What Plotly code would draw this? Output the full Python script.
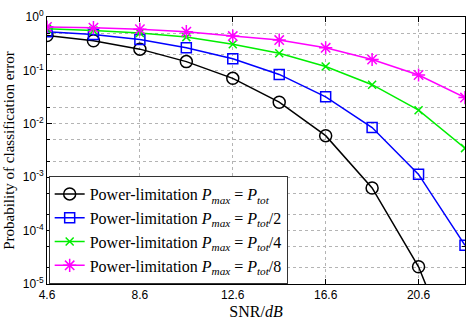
import plotly.graph_objects as go

snr = [4.6, 6.6, 8.6, 10.6, 12.6, 14.6, 16.6, 18.6, 20.6, 22.6]
p_full = [0.45, 0.36, 0.25, 0.146, 0.071, 0.0254, 0.006, 6.3e-4, 2.1e-5, 1.5e-7]
p_half = [0.53, 0.47, 0.38, 0.265, 0.165, 0.084, 0.032, 0.0085, 1.13e-3, 5.3e-5]
p_quarter = [0.60, 0.56, 0.50, 0.42, 0.31, 0.21, 0.118, 0.054, 0.018, 3.5e-3]
p_eighth = [0.65, 0.63, 0.59, 0.53, 0.44, 0.37, 0.265, 0.16, 0.082, 0.031]

names = [
    "Power-limitation <i>P<sub>max</sub></i> = <i>P<sub>tot</sub></i>",
    "Power-limitation <i>P<sub>max</sub></i> = <i>P<sub>tot</sub></i>/2",
    "Power-limitation <i>P<sub>max</sub></i> = <i>P<sub>tot</sub></i>/4",
    "Power-limitation <i>P<sub>max</sub></i> = <i>P<sub>tot</sub></i>/8",
]
series = [p_full, p_half, p_quarter, p_eighth]
colors = ["#000000", "#0000ff", "#00ee00", "#ff00ff"]
symbols = ["circle-open", "square-open", "x-thin-open", "asterisk-open"]
sizes = [12, 10, 8, 11]

xticks = [4.6, 8.6, 12.6, 16.6, 20.6]
yticks = [1e-5, 1e-4, 1e-3, 1e-2, 1e-1, 1]
yticktext = ["10<sup>-5</sup>", "10<sup>-4</sup>", "10<sup>-3</sup>", "10<sup>-2</sup>",
             "10<sup>-1</sup>", "10<sup>0</sup>"]

fig = go.Figure()
for nm, ys, c, s, sz in zip(names, series, colors, symbols, sizes):
    fig.add_trace(go.Scatter(
        x=snr, y=ys, name=nm, mode="lines+markers",
        line=dict(color=c, width=1.5),
        marker=dict(symbol=s, size=sz, color=c, line=dict(color=c, width=1.5)),
    ))

grid_col = "#b4b4b4"
fig.update_layout(
    width=474, height=326,
    margin=dict(l=44, r=8, t=13, b=38),
    paper_bgcolor="white", plot_bgcolor="white",
    font=dict(family="Liberation Sans, Arial", size=12, color="black"),
    showlegend=True,
    legend=dict(
        x=0.004, y=0.0, xanchor="left", yanchor="bottom",
        bgcolor="white", bordercolor="#333333", borderwidth=1,
        font=dict(family="Liberation Serif, Times New Roman, serif", size=16),
        tracegroupgap=0, itemwidth=30,
    ),
    xaxis=dict(
        range=[4.6, 22.6], tickvals=xticks, ticktext=[str(v) for v in xticks],
        ticks="inside", ticklen=5, tickcolor="black",
        showline=True, linecolor="black", linewidth=1, mirror="ticks",
        showgrid=True, gridcolor=grid_col, griddash="dot", gridwidth=1,
        zeroline=False,
        title=dict(text="SNR/<i>dB</i>", standoff=4,
                   font=dict(family="Liberation Serif, Times New Roman, serif", size=16)),
        tickfont=dict(size=12),
    ),
    yaxis=dict(
        type="log", range=[-5, 0], tickvals=yticks, ticktext=yticktext,
        ticks="inside", ticklen=5, tickcolor="black",
        showline=True, linecolor="black", linewidth=1, mirror="ticks",
        showgrid=True, gridcolor=grid_col, griddash="dot", gridwidth=1,
        zeroline=False,
        minor=dict(ticks="inside", ticklen=3, tickcolor="black",
                   showgrid=True, gridcolor=grid_col, griddash="dot", gridwidth=1),
        title=dict(text="Probability of classification error", standoff=4,
                   font=dict(family="Liberation Serif, Times New Roman, serif", size=15)),
        tickfont=dict(size=12),
    ),
)

fig.write_html("out.html")
